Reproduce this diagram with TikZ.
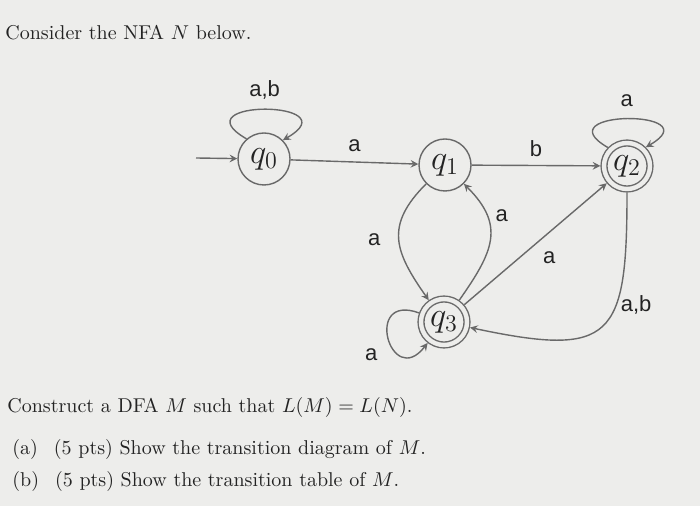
\documentclass[tikz,border=0pt]{standalone}
\usepackage{fontspec}
\usepackage{amsmath}
\newfontfamily\lblfont{Liberation Sans}
\definecolor{paper}{RGB}{237,237,235}
\definecolor{ink}{RGB}{35,35,35}
\definecolor{wire}{RGB}{105,105,105}
\tikzset{
	nfastate/.style={circle, draw=wire, line width=0.7pt, minimum size=26pt, inner sep=0pt, text=ink, font=\LARGE},
	accstate/.style={nfastate, minimum size=23pt, double=paper, double distance=2.2pt, outer sep=1.8pt},
	trans/.style={->, >=stealth, draw=wire, line width=0.7pt},
	lbl/.style={text=ink, font=\lblfont\fontsize{11}{13}\selectfont, inner sep=2pt},
	question/.style={text=ink, anchor=base west, inner sep=0pt}
}

\begin{document}
\begin{tikzpicture}[x=0.5pt, y=-0.5pt]
\path[use as bounding box, fill=paper] (0,0) rectangle (700,506);

% question
\node[question] (intro) at (5,40) {Consider the NFA $N$ below.};

% states
\node[nfastate] (q0) at (264,159) {$q_0$};
\node[nfastate] (q1) at (445,165) {$q_1$};
\node[accstate] (q2) at (627,166) {$q_2$};
\node[accstate] (q3) at (444,322) {$q_3$};
\coordinate (start) at (196,158);

% transitions
\draw[trans] (start) -- (q0);
\draw[trans] (q0.131) .. controls +(150:40pt) and +(30:40pt) .. node[lbl, above=2.5pt] {a,b} (q0.45);
\draw[trans] (q0) -- node[lbl, above=3pt] {a} (q1);
\draw[trans] (q1) -- node[lbl, above=2pt] {b} (q2);
\draw[trans] (q2.136) .. controls +(150:38pt) and +(30:38pt) .. node[lbl, above=3.5pt] {a} (q2.45);
\draw[trans] (q1) to[out=225, in=125, looseness=1.3] node[lbl, left=7pt] {a} (q3);
\draw[trans] (q3) to[out=55, in=-45, looseness=1.3] node[lbl, pos=0.72, right=2pt] {a} (q1);
\draw[trans] (q3) -- node[lbl, pos=0.5, below right=1.5pt] {a} (q2);
\draw[trans] (q2) to[out=-90, in=-12, looseness=1.8] node[lbl, pos=0.36, right] {a,b} (q3);
\draw[trans] (q3) to[out=160, in=232, distance=30pt] node[lbl, pos=0.55, left=4pt, yshift=-6pt] {a} (q3);

% task
\node[question] (task) at (7,413) {Construct a DFA $M$ such that $L(M) = L(N)$.};
\node[question] (parta) at (12,455) {(a)\hspace{8pt}(5 pts) Show the transition diagram of $M$.};
\node[question] (partb) at (12,487) {(b)\hspace{8pt}(5 pts) Show the transition table of $M$.};
\end{tikzpicture}
\end{document}
